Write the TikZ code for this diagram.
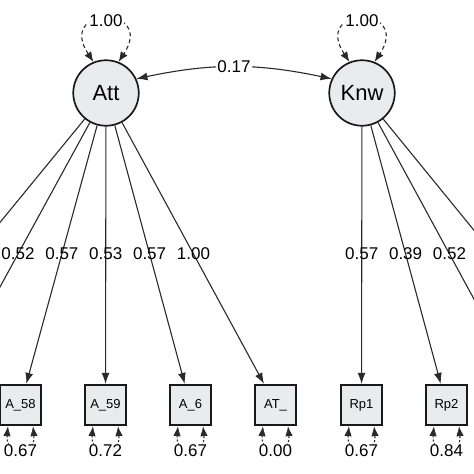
\documentclass[tikz,border=0pt]{standalone}
\usepackage{fontspec}
\setmainfont{Liberation Sans}
\usetikzlibrary{arrows.meta,calc}
\definecolor{fillg}{HTML}{E8ECEC}
\definecolor{lineg}{HTML}{2A2A2A}
\begin{document}
\begin{tikzpicture}[x=1pt,y=-1pt,
  latent/.style={circle,draw=black!90,line width=1.7pt,fill=fillg,minimum size=65.5pt,inner sep=0pt,font=\fontsize{22}{25}\selectfont},
  obs/.style={rectangle,draw=black!90,line width=1.7pt,fill=fillg,minimum width=41.5pt,minimum height=40.5pt,inner sep=0pt,font=\fontsize{13}{15}\selectfont},
  load/.style={draw=lineg,line width=1.1pt,-{Latex[length=11pt,width=8pt]}},
  cov/.style={draw=lineg,line width=1.1pt,{Latex[length=11pt,width=8pt]}-{Latex[length=11pt,width=8pt]}},
  varloop/.style={draw=lineg,line width=1.1pt,dash pattern=on 4pt off 3pt,{Latex[length=10pt,width=8pt]}-{Latex[length=10pt,width=8pt]}},
  resloop/.style={draw=lineg,line width=1.1pt,dash pattern=on 2pt off 2pt,{Latex[length=10pt,width=7.5pt]}-{Latex[length=10pt,width=7.5pt]}},
  num/.style={font=\fontsize{17}{19}\selectfont,inner sep=1pt},
  numw/.style={num,fill=white}
]
\useasboundingbox (0,0) rectangle (474,474);
\clip (0,0) rectangle (474,474);

% latent variables
\node[latent] (att) at (106,93) {Att};
\node[latent] (knw) at (362,93) {Knw};

% observed indicators
\node[obs] (b1) at (20.5,405) {A\_58};
\node[obs] (b2) at (105.5,405) {A\_59};
\node[obs] (b3) at (190.5,405) {A\_6};
\node[obs] (b4) at (275.5,405) {AT\_};
\node[obs] (b5) at (361.5,405) {Rp1};
\node[obs] (b6) at (446.5,405) {Rp2};

% indicators outside the visible area
\coordinate (o1) at (-149.5,405);
\coordinate (o2) at (-64.5,405);
\coordinate (o3) at (531.5,405);
\coordinate (o4) at (616.5,405);

% variance loops of latents
\draw[varloop] (att.112) .. controls (56,5) and (156,5) .. (att.68);
\node[numw] (va) at (106,21) {1.00};
\draw[varloop] (knw.112) .. controls (312,5) and (412,5) .. (knw.68);
\node[numw] (vk) at (362,21) {1.00};

% covariance
\draw[cov] (att.25) to[bend left=12] node[numw,midway] (cv) {0.17} (knw.155);

% loadings
\draw[load] (att) -- (o1);
\draw[load] (att) -- (o2);
\draw[load] (att) -- (b1);
\draw[load] (att) -- (b2);
\draw[load] (att) -- (b3);
\draw[load] (att) -- (b4);
\draw[load] (knw) -- (b5);
\draw[load] (knw) -- (b6);
\draw[load] (knw) -- (o3);
\draw[load] (knw) -- (o4);

\node[num] (l2) at ($(att)!0.516!(o2)$) {0.52};
\node[num] (l3) at ($(att)!0.516!(b1)$) {0.57};
\node[num] (l4) at ($(att)!0.516!(b2)$) {0.53};
\node[num] (l5) at ($(att)!0.516!(b3)$) {0.57};
\node[num] (l6) at ($(att)!0.516!(b4)$) {1.00};
\node[num] (l7) at ($(knw)!0.516!(b5)$) {0.57};
\node[num] (l8) at ($(knw)!0.516!(b6)$) {0.39};
\node[num] (l9) at ($(knw)!0.516!(o3)$) {0.52};

% residual variances
\foreach \b/\v in {b1/0.67,b2/0.72,b3/0.67,b4/0.00,b5/0.67,b6/0.84}{
  \draw[resloop] ($(\b.south)+(-12.5,0)$) .. controls +(-3,30) and +(3,30) .. ($(\b.south)+(12.5,0)$);
  \node[numw] (r\b) at ($(\b.south)+(0,25)$) {\v};
}
\end{tikzpicture}
\end{document}
